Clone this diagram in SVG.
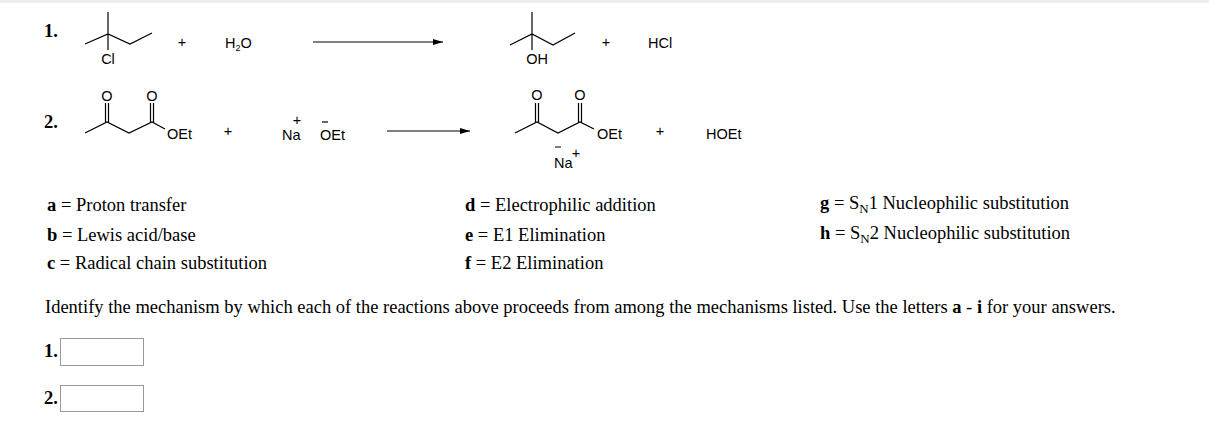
<svg xmlns="http://www.w3.org/2000/svg" width="1209" height="421" viewBox="0 0 1209 421">
<defs>
<marker id="ah" viewBox="0 0 10 6" refX="10" refY="3" markerWidth="10" markerHeight="6" orient="auto" markerUnits="userSpaceOnUse"><path d="M0,0 L10,3 L0,6 z" fill="#000"/></marker>
</defs>
<style>
.b{stroke:#000;stroke-width:1.2;fill:none}
.s{font-family:"Liberation Sans",Arial,sans-serif;font-size:14.5px;fill:#000}
.t{font-family:"Liberation Serif","Times New Roman",serif;font-size:18.5px;fill:#000}
.bold{font-weight:bold}
</style>
<rect x="0" y="0" width="1209" height="3" fill="#eeeeee"/>
<rect width="1209" height="418" y="3" fill="#fff"/>
<text class="t bold" x="44" y="37" font-size="16">1.</text>
<text class="t bold" x="44" y="128" font-size="16">2.</text>
<g id="r1">
<path class="b" d="M108,12 L108,50 M85,44 L108,34 L130,44 L152,33"/>
<text class="s" x="108" y="64" text-anchor="middle">Cl</text>
<text class="s" x="182" y="47" text-anchor="middle">+</text>
<text class="s" x="225" y="48">H<tspan font-size="9" dy="3">2</tspan><tspan dy="-3">O</tspan></text>
</g>
<g id="p1">
<path class="b" d="M532,12 L532,50 M510,45 L532,34 L553,45 L575,33"/>
<text class="s" x="537" y="64" text-anchor="middle">OH</text>
<text class="s" x="606" y="47" text-anchor="middle">+</text>
<text class="s" x="648" y="48">HCl</text>
</g>
<g id="r2">
<path class="b" d="M85,133 L107,122 L129,133 L152,122 L165,129 M105.5,103 L105.5,122 M108.5,103 L108.5,122 M150.5,103 L150.5,122 M153.5,103 L153.5,122"/>
<text class="s" x="107" y="101" text-anchor="middle">O</text>
<text class="s" x="152" y="101" text-anchor="middle">O</text>
<text class="s" x="167" y="139">OEt</text>
<text class="s" x="228" y="136" text-anchor="middle">+</text>
<text class="s" x="282" y="140">Na</text>
<text class="s" x="297" y="125" text-anchor="middle" font-size="12">+</text>
<text class="s" x="320" y="140">OEt</text>
<path class="b" d="M322,122 L328,122" stroke-width="1"/>
</g>
<g id="p2">
<path class="b" d="M515,133 L537,122 L558,133 L580,122 L594,129 M535.5,103 L535.5,122 M538.5,103 L538.5,122 M578.5,103 L578.5,122 M581.5,103 L581.5,122 M555,147 L561,147"/>
<text class="s" x="537" y="100" text-anchor="middle">O</text>
<text class="s" x="580" y="100" text-anchor="middle">O</text>
<text class="s" x="597" y="139">OEt</text>
<text class="s" x="554" y="168">Na</text>
<text class="s" x="576" y="158" text-anchor="middle" font-size="12">+</text>
<text class="s" x="660" y="136" text-anchor="middle">+</text>
<text class="s" x="706" y="139">HOEt</text>
</g>
<g id="connectors">
<line class="b" x1="313" y1="42" x2="443" y2="42" marker-end="url(#ah)"/>
<line class="b" x1="387" y1="131" x2="470" y2="131" marker-end="url(#ah)"/>
</g>
<g id="legend">
<text class="t" x="47" y="211"><tspan class="bold">a</tspan> = Proton transfer</text>
<text class="t" x="47" y="241"><tspan class="bold">b</tspan> = Lewis acid/base</text>
<text class="t" x="47" y="269"><tspan class="bold">c</tspan> = Radical chain substitution</text>
<text class="t" x="465" y="211"><tspan class="bold">d</tspan> = Electrophilic addition</text>
<text class="t" x="465" y="241"><tspan class="bold">e</tspan> = E1 Elimination</text>
<text class="t" x="465" y="269"><tspan class="bold">f</tspan> = E2 Elimination</text>
<text class="t" x="820" y="209"><tspan class="bold">g</tspan> = S<tspan font-size="13" dy="4">N</tspan><tspan dy="-4">1 Nucleophilic substitution</tspan></text>
<text class="t" x="820" y="239"><tspan class="bold">h</tspan> = S<tspan font-size="13" dy="4">N</tspan><tspan dy="-4">2 Nucleophilic substitution</tspan></text>
</g>
<text class="t" x="45" y="313">Identify the mechanism by which each of the reactions above proceeds from among the mechanisms listed. Use the letters <tspan class="bold">a</tspan> - <tspan class="bold">i</tspan> for your answers.</text>
<text class="t bold" x="44" y="357" font-size="14">1.</text>
<rect x="60.5" y="338.5" width="83" height="27" fill="#fff" stroke="#999"/>
<text class="t bold" x="44" y="404" font-size="14">2.</text>
<rect x="60.5" y="385.5" width="83" height="26" fill="#fff" stroke="#999"/>
</svg>
